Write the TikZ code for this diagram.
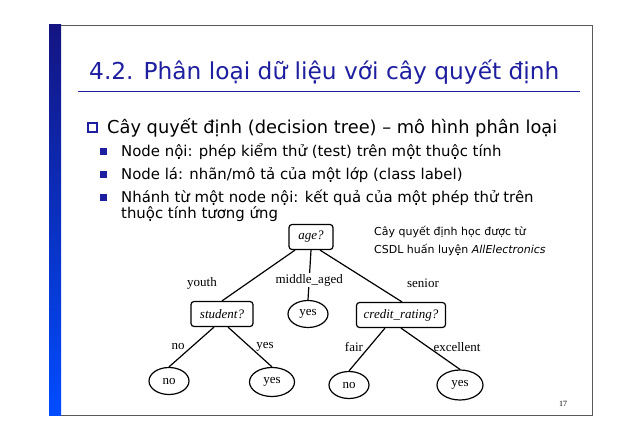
\documentclass[tikz,border=0pt]{standalone}
\usepackage{fontspec}
\usetikzlibrary{shapes.geometric}
\setmainfont{DejaVu Sans}
\newfontfamily\tms{Liberation Serif}
\definecolor{navy}{RGB}{20,20,130}
\definecolor{titleblue}{RGB}{30,30,160}
\begin{document}
\begin{tikzpicture}[x=1pt,y=-1pt,
  dbox/.style={draw,line width=1.2pt,rounded corners=3pt,font=\tms\itshape\fontsize{13}{13}\selectfont,minimum height=25pt,inner xsep=5pt},
  leaf/.style={draw,line width=1.2pt,ellipse,font=\tms\fontsize{13}{13}\selectfont,minimum width=40pt,minimum height=27pt,inner sep=1pt},
  elab/.style={font=\tms\fontsize{13}{13}\selectfont,inner sep=1pt},
  edge/.style={line width=1.2pt}]
\useasboundingbox (0,0) rectangle (638,441);
\draw[gray!70!black] (49,25) rectangle (592,415);
\shade[top color=navy,bottom color=blue!70!cyan] (49,25) rectangle (61,415);
\node[anchor=base west,text=titleblue,font=\fontsize{23.3}{23.3}\selectfont,inner sep=0] (title) at (89,80) {4.2. Phân loại dữ liệu với cây quyết định};
\draw[titleblue] (78,91) -- (580,91);
\node[anchor=base west,font=\fontsize{17.8}{17.8}\selectfont,inner sep=0] (l1) at (107,134) {Cây quyết định (decision tree) – mô hình phân loại};
\draw[titleblue,line width=1.5pt] (88,123) rectangle (97,132);
\foreach \y/\t in {157/{Node nội: phép kiểm thử (test) trên một thuộc tính},180/{Node lá: nhãn/mô tả của một lớp (class label)},203/{Nhánh từ một node nội: kết quả của một phép thử trên}}{
  \fill[titleblue] (100,\y-9) rectangle (107,\y-2);
  \node[anchor=base west,font=\fontsize{14.9}{14.9}\selectfont,inner sep=0] at (121,\y) {\t};
}
\node[anchor=base west,font=\fontsize{14.9}{14.9}\selectfont,inner sep=0] (l5) at (121,219) {thuộc tính tương ứng};
\node[anchor=base west,font=\fontsize{11}{11}\selectfont,inner sep=0] (c1) at (374,236) {Cây quyết định học được từ};
\node[anchor=base west,font=\fontsize{11}{11}\selectfont,inner sep=0] (c2) at (374,254) {CSDL huấn luyện \textit{AllElectronics}};
\node[font=\tms\fontsize{8}{8}\selectfont] (pg) at (563,404) {17};
\node[dbox,minimum width=44pt] (age) at (311,237) {age?};
\node[dbox,minimum width=62pt] (stu) at (222,314) {student?};
\node[leaf] (my) at (308,314) {yes};
\node[dbox,minimum width=89pt] (cr) at (401,315) {credit\_rating?};
\node[leaf] (l1n) at (169,381) {no};
\node[leaf,minimum width=45pt,minimum height=29pt] (l1y) at (272,382) {yes};
\node[leaf] (l2n) at (349,385) {no};
\node[leaf,minimum width=46pt,minimum height=30pt] (l2y) at (460,385) {yes};
\draw[edge] ([xshift=-16pt]age.south) -- (stu.north);
\draw[edge] (age.south) -- (my.north) node[elab,fill=white,pos=0.6] {middle\_aged};
\draw[edge] ([xshift=9pt]age.south) -- ([xshift=1pt]cr.north);
\draw[edge] ([xshift=-8pt]stu.south) -- (l1n.north);
\draw[edge] ([xshift=6pt]stu.south) -- (l1y.north);
\draw[edge] ([xshift=-16pt]cr.south) -- (l2n.north);
\draw[edge] ([xshift=0pt]cr.south) -- (l2y.north);
\node[elab] (ly) at (202,283) {youth};
\node[elab] (ls) at (423,283) {senior};
\node[elab] (ln) at (178,347) {no};
\node[elab] (lyy) at (265,347) {yes};
\node[elab] (lf) at (354,347) {fair};
\node[elab] (le) at (457,347) {excellent};
\end{tikzpicture}
\end{document}
